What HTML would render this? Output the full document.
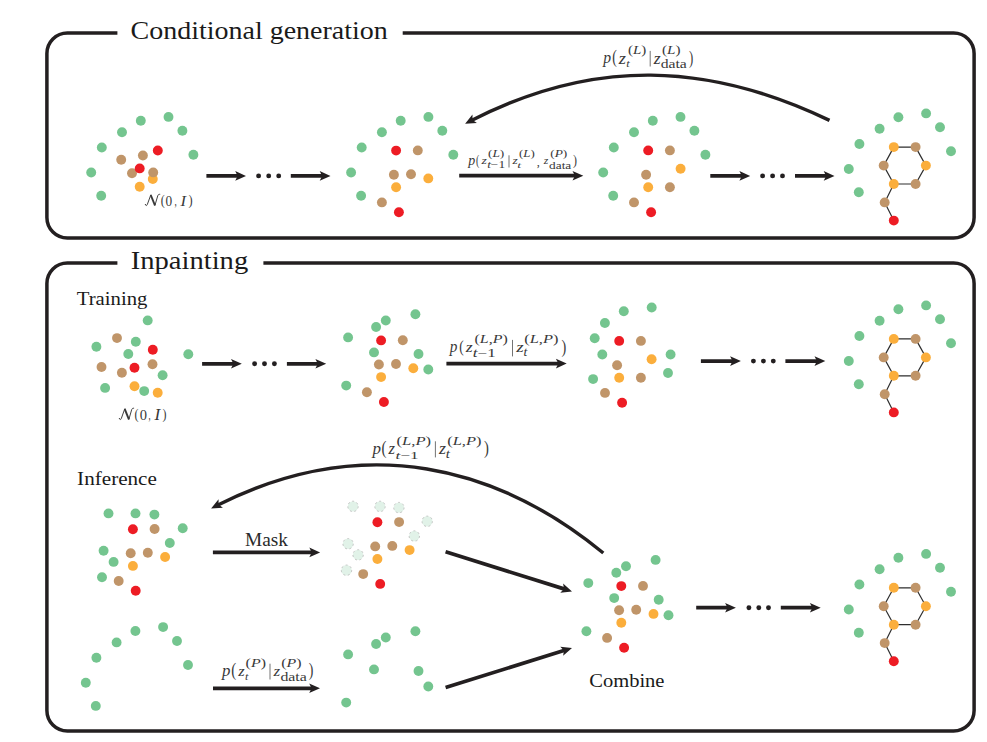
<!DOCTYPE html>
<html><head><meta charset="utf-8"><title>Conditional generation and inpainting</title>
<style>
html,body{margin:0;padding:0;background:#fff;width:987px;height:742px;overflow:hidden}
svg{display:block}
text{font-family:"Liberation Serif",serif}
.m{fill:#383838}
.t{fill:#1a1a1a}
</style></head><body>
<svg width="987" height="742" viewBox="0 0 987 742">
<rect width="987" height="742" fill="#fff"/>
<path d="M117.4 33.1H67.4A20.5 20.5 0 0 0 46.9 53.6V217.5A20.5 20.5 0 0 0 67.4 238.0H953.6A20.5 20.5 0 0 0 974.1 217.5V53.6A20.5 20.5 0 0 0 953.6 33.1H402.7" stroke="#231f20" stroke-width="3.5" fill="none"/>
<path d="M117.4 263.1H67.4A20.5 20.5 0 0 0 46.9 283.6V710.4A20.5 20.5 0 0 0 67.4 730.9H953.6A20.5 20.5 0 0 0 974.1 710.4V283.6A20.5 20.5 0 0 0 953.6 263.1H263.4" stroke="#231f20" stroke-width="3.5" fill="none"/>
<circle cx="140.80" cy="120.80" r="4.95" fill="#74c58f"/>
<circle cx="168.50" cy="116.90" r="4.95" fill="#74c58f"/>
<circle cx="122.00" cy="132.20" r="4.95" fill="#74c58f"/>
<circle cx="182.40" cy="130.80" r="4.95" fill="#74c58f"/>
<circle cx="101.80" cy="147.50" r="4.95" fill="#74c58f"/>
<circle cx="193.40" cy="154.80" r="4.95" fill="#74c58f"/>
<circle cx="91.20" cy="172.50" r="4.95" fill="#74c58f"/>
<circle cx="101.20" cy="195.70" r="4.95" fill="#74c58f"/>
<circle cx="152.80" cy="179.10" r="4.95" fill="#fbae3c"/>
<circle cx="139.70" cy="186.70" r="4.95" fill="#fbae3c"/>
<circle cx="142.90" cy="155.50" r="4.95" fill="#c09569"/>
<circle cx="121.20" cy="159.70" r="4.95" fill="#c09569"/>
<circle cx="132.00" cy="173.30" r="4.95" fill="#c09569"/>
<circle cx="153.20" cy="172.40" r="4.95" fill="#c09569"/>
<circle cx="157.80" cy="150.50" r="4.95" fill="#ed1c24"/>
<circle cx="139.70" cy="168.40" r="4.95" fill="#ed1c24"/>
<circle cx="400.70" cy="120.80" r="4.95" fill="#74c58f"/>
<circle cx="428.40" cy="116.90" r="4.95" fill="#74c58f"/>
<circle cx="381.90" cy="132.20" r="4.95" fill="#74c58f"/>
<circle cx="442.30" cy="130.80" r="4.95" fill="#74c58f"/>
<circle cx="361.70" cy="147.50" r="4.95" fill="#74c58f"/>
<circle cx="453.30" cy="154.80" r="4.95" fill="#74c58f"/>
<circle cx="351.10" cy="172.50" r="4.95" fill="#74c58f"/>
<circle cx="361.10" cy="195.70" r="4.95" fill="#74c58f"/>
<circle cx="428.30" cy="178.40" r="4.95" fill="#fbae3c"/>
<circle cx="396.10" cy="187.30" r="4.95" fill="#fbae3c"/>
<circle cx="417.80" cy="150.40" r="4.95" fill="#c09569"/>
<circle cx="393.90" cy="174.70" r="4.95" fill="#c09569"/>
<circle cx="411.00" cy="174.20" r="4.95" fill="#c09569"/>
<circle cx="381.90" cy="202.40" r="4.95" fill="#c09569"/>
<circle cx="396.10" cy="150.60" r="4.95" fill="#ed1c24"/>
<circle cx="398.90" cy="212.20" r="4.95" fill="#ed1c24"/>
<circle cx="652.80" cy="120.80" r="4.95" fill="#74c58f"/>
<circle cx="680.50" cy="116.90" r="4.95" fill="#74c58f"/>
<circle cx="634.00" cy="132.20" r="4.95" fill="#74c58f"/>
<circle cx="694.40" cy="130.80" r="4.95" fill="#74c58f"/>
<circle cx="613.80" cy="147.50" r="4.95" fill="#74c58f"/>
<circle cx="705.40" cy="154.80" r="4.95" fill="#74c58f"/>
<circle cx="603.20" cy="172.50" r="4.95" fill="#74c58f"/>
<circle cx="613.20" cy="195.70" r="4.95" fill="#74c58f"/>
<circle cx="680.60" cy="168.70" r="4.95" fill="#fbae3c"/>
<circle cx="648.20" cy="187.30" r="4.95" fill="#fbae3c"/>
<circle cx="669.90" cy="150.40" r="4.95" fill="#c09569"/>
<circle cx="646.10" cy="174.70" r="4.95" fill="#c09569"/>
<circle cx="669.90" cy="187.30" r="4.95" fill="#c09569"/>
<circle cx="634.00" cy="202.40" r="4.95" fill="#c09569"/>
<circle cx="648.20" cy="150.40" r="4.95" fill="#ed1c24"/>
<circle cx="651.10" cy="212.20" r="4.95" fill="#ed1c24"/>
<circle cx="898.40" cy="117.30" r="4.95" fill="#74c58f"/>
<circle cx="926.10" cy="113.40" r="4.95" fill="#74c58f"/>
<circle cx="879.60" cy="128.70" r="4.95" fill="#74c58f"/>
<circle cx="940.00" cy="127.30" r="4.95" fill="#74c58f"/>
<circle cx="859.40" cy="144.00" r="4.95" fill="#74c58f"/>
<circle cx="951.00" cy="151.30" r="4.95" fill="#74c58f"/>
<circle cx="848.80" cy="169.00" r="4.95" fill="#74c58f"/>
<circle cx="858.80" cy="192.20" r="4.95" fill="#74c58f"/>
<path d="M893.80 147.10L915.60 147.10 M915.60 147.10L925.90 165.60 M925.90 165.60L915.60 184.00 M915.60 184.00L893.80 184.00 M893.80 184.00L883.70 165.60 M883.70 165.60L893.80 147.10 M893.80 184.00L884.70 202.40 M884.70 202.40L893.80 220.60" stroke="#2e2e2e" stroke-width="1.2" fill="none"/>
<circle cx="893.80" cy="147.10" r="4.95" fill="#fbae3c"/>
<circle cx="925.90" cy="165.60" r="4.95" fill="#fbae3c"/>
<circle cx="893.80" cy="184.00" r="4.95" fill="#fbae3c"/>
<circle cx="915.60" cy="147.10" r="4.95" fill="#c09569"/>
<circle cx="915.60" cy="184.00" r="4.95" fill="#c09569"/>
<circle cx="883.70" cy="165.60" r="4.95" fill="#c09569"/>
<circle cx="884.70" cy="202.40" r="4.95" fill="#c09569"/>
<circle cx="893.80" cy="220.60" r="4.95" fill="#ed1c24"/>
<circle cx="147.70" cy="320.40" r="4.95" fill="#74c58f"/>
<circle cx="135.80" cy="341.70" r="4.95" fill="#74c58f"/>
<circle cx="96.40" cy="346.80" r="4.95" fill="#74c58f"/>
<circle cx="128.30" cy="354.00" r="4.95" fill="#74c58f"/>
<circle cx="188.30" cy="354.20" r="4.95" fill="#74c58f"/>
<circle cx="162.60" cy="375.30" r="4.95" fill="#74c58f"/>
<circle cx="105.10" cy="387.90" r="4.95" fill="#74c58f"/>
<circle cx="144.20" cy="391.10" r="4.95" fill="#74c58f"/>
<circle cx="134.50" cy="386.20" r="4.95" fill="#fbae3c"/>
<circle cx="157.70" cy="392.80" r="4.95" fill="#fbae3c"/>
<circle cx="117.00" cy="338.10" r="4.95" fill="#c09569"/>
<circle cx="152.50" cy="364.20" r="4.95" fill="#c09569"/>
<circle cx="101.50" cy="367.00" r="4.95" fill="#c09569"/>
<circle cx="121.90" cy="372.80" r="4.95" fill="#c09569"/>
<circle cx="152.80" cy="349.80" r="4.95" fill="#ed1c24"/>
<circle cx="134.50" cy="367.70" r="4.95" fill="#ed1c24"/>
<circle cx="415.40" cy="314.20" r="4.95" fill="#74c58f"/>
<circle cx="385.80" cy="320.50" r="4.95" fill="#74c58f"/>
<circle cx="376.10" cy="327.00" r="4.95" fill="#74c58f"/>
<circle cx="348.10" cy="337.40" r="4.95" fill="#74c58f"/>
<circle cx="374.00" cy="352.40" r="4.95" fill="#74c58f"/>
<circle cx="418.50" cy="354.00" r="4.95" fill="#74c58f"/>
<circle cx="428.30" cy="369.50" r="4.95" fill="#74c58f"/>
<circle cx="346.20" cy="385.60" r="4.95" fill="#74c58f"/>
<circle cx="413.30" cy="368.20" r="4.95" fill="#fbae3c"/>
<circle cx="381.10" cy="377.10" r="4.95" fill="#fbae3c"/>
<circle cx="402.80" cy="340.20" r="4.95" fill="#c09569"/>
<circle cx="378.90" cy="364.50" r="4.95" fill="#c09569"/>
<circle cx="396.00" cy="364.00" r="4.95" fill="#c09569"/>
<circle cx="366.90" cy="392.20" r="4.95" fill="#c09569"/>
<circle cx="381.10" cy="340.40" r="4.95" fill="#ed1c24"/>
<circle cx="383.90" cy="402.00" r="4.95" fill="#ed1c24"/>
<circle cx="651.70" cy="307.50" r="4.95" fill="#74c58f"/>
<circle cx="623.80" cy="311.30" r="4.95" fill="#74c58f"/>
<circle cx="604.90" cy="323.00" r="4.95" fill="#74c58f"/>
<circle cx="594.70" cy="338.20" r="4.95" fill="#74c58f"/>
<circle cx="602.30" cy="354.50" r="4.95" fill="#74c58f"/>
<circle cx="670.60" cy="354.50" r="4.95" fill="#74c58f"/>
<circle cx="668.00" cy="373.00" r="4.95" fill="#74c58f"/>
<circle cx="593.10" cy="379.10" r="4.95" fill="#74c58f"/>
<circle cx="651.60" cy="359.20" r="4.95" fill="#fbae3c"/>
<circle cx="619.20" cy="377.80" r="4.95" fill="#fbae3c"/>
<circle cx="640.90" cy="340.90" r="4.95" fill="#c09569"/>
<circle cx="617.10" cy="365.20" r="4.95" fill="#c09569"/>
<circle cx="640.90" cy="377.80" r="4.95" fill="#c09569"/>
<circle cx="605.00" cy="392.90" r="4.95" fill="#c09569"/>
<circle cx="619.20" cy="340.90" r="4.95" fill="#ed1c24"/>
<circle cx="622.10" cy="402.70" r="4.95" fill="#ed1c24"/>
<circle cx="898.40" cy="309.30" r="4.95" fill="#74c58f"/>
<circle cx="926.10" cy="305.40" r="4.95" fill="#74c58f"/>
<circle cx="879.60" cy="320.70" r="4.95" fill="#74c58f"/>
<circle cx="940.00" cy="319.30" r="4.95" fill="#74c58f"/>
<circle cx="859.40" cy="336.00" r="4.95" fill="#74c58f"/>
<circle cx="951.00" cy="343.30" r="4.95" fill="#74c58f"/>
<circle cx="848.80" cy="361.00" r="4.95" fill="#74c58f"/>
<circle cx="858.80" cy="384.20" r="4.95" fill="#74c58f"/>
<path d="M893.80 338.90L915.60 338.90 M915.60 338.90L925.90 357.40 M925.90 357.40L915.60 375.80 M915.60 375.80L893.80 375.80 M893.80 375.80L883.70 357.40 M883.70 357.40L893.80 338.90 M893.80 375.80L884.70 394.20 M884.70 394.20L893.80 412.40" stroke="#2e2e2e" stroke-width="1.2" fill="none"/>
<circle cx="893.80" cy="338.90" r="4.95" fill="#fbae3c"/>
<circle cx="925.90" cy="357.40" r="4.95" fill="#fbae3c"/>
<circle cx="893.80" cy="375.80" r="4.95" fill="#fbae3c"/>
<circle cx="915.60" cy="338.90" r="4.95" fill="#c09569"/>
<circle cx="915.60" cy="375.80" r="4.95" fill="#c09569"/>
<circle cx="883.70" cy="357.40" r="4.95" fill="#c09569"/>
<circle cx="884.70" cy="394.20" r="4.95" fill="#c09569"/>
<circle cx="893.80" cy="412.40" r="4.95" fill="#ed1c24"/>
<circle cx="108.50" cy="513.40" r="4.95" fill="#74c58f"/>
<circle cx="135.50" cy="513.40" r="4.95" fill="#74c58f"/>
<circle cx="154.40" cy="514.60" r="4.95" fill="#74c58f"/>
<circle cx="182.70" cy="528.30" r="4.95" fill="#74c58f"/>
<circle cx="169.80" cy="543.00" r="4.95" fill="#74c58f"/>
<circle cx="103.60" cy="550.80" r="4.95" fill="#74c58f"/>
<circle cx="113.60" cy="561.90" r="4.95" fill="#74c58f"/>
<circle cx="102.00" cy="577.20" r="4.95" fill="#74c58f"/>
<circle cx="165.10" cy="557.00" r="4.95" fill="#fbae3c"/>
<circle cx="132.90" cy="565.90" r="4.95" fill="#fbae3c"/>
<circle cx="154.60" cy="529.00" r="4.95" fill="#c09569"/>
<circle cx="130.70" cy="553.30" r="4.95" fill="#c09569"/>
<circle cx="147.80" cy="552.80" r="4.95" fill="#c09569"/>
<circle cx="118.70" cy="581.00" r="4.95" fill="#c09569"/>
<circle cx="132.90" cy="529.20" r="4.95" fill="#ed1c24"/>
<circle cx="135.70" cy="590.80" r="4.95" fill="#ed1c24"/>
<circle cx="353.00" cy="506.40" r="5.2" fill="#e1f2e8" stroke="#b8b8b8" stroke-width="0.8" stroke-dasharray="2 2.6"/>
<circle cx="380.00" cy="506.40" r="5.2" fill="#e1f2e8" stroke="#b8b8b8" stroke-width="0.8" stroke-dasharray="2 2.6"/>
<circle cx="398.90" cy="507.60" r="5.2" fill="#e1f2e8" stroke="#b8b8b8" stroke-width="0.8" stroke-dasharray="2 2.6"/>
<circle cx="427.20" cy="521.30" r="5.2" fill="#e1f2e8" stroke="#b8b8b8" stroke-width="0.8" stroke-dasharray="2 2.6"/>
<circle cx="414.30" cy="536.00" r="5.2" fill="#e1f2e8" stroke="#b8b8b8" stroke-width="0.8" stroke-dasharray="2 2.6"/>
<circle cx="348.10" cy="543.80" r="5.2" fill="#e1f2e8" stroke="#b8b8b8" stroke-width="0.8" stroke-dasharray="2 2.6"/>
<circle cx="358.10" cy="554.90" r="5.2" fill="#e1f2e8" stroke="#b8b8b8" stroke-width="0.8" stroke-dasharray="2 2.6"/>
<circle cx="346.50" cy="570.20" r="5.2" fill="#e1f2e8" stroke="#b8b8b8" stroke-width="0.8" stroke-dasharray="2 2.6"/>
<circle cx="409.60" cy="550.10" r="4.95" fill="#fbae3c"/>
<circle cx="377.40" cy="559.00" r="4.95" fill="#fbae3c"/>
<circle cx="399.10" cy="522.10" r="4.95" fill="#c09569"/>
<circle cx="375.20" cy="546.40" r="4.95" fill="#c09569"/>
<circle cx="392.30" cy="545.90" r="4.95" fill="#c09569"/>
<circle cx="363.20" cy="574.10" r="4.95" fill="#c09569"/>
<circle cx="377.40" cy="522.30" r="4.95" fill="#ed1c24"/>
<circle cx="380.20" cy="583.90" r="4.95" fill="#ed1c24"/>
<circle cx="655.60" cy="559.90" r="4.95" fill="#74c58f"/>
<circle cx="626.00" cy="566.20" r="4.95" fill="#74c58f"/>
<circle cx="616.30" cy="572.70" r="4.95" fill="#74c58f"/>
<circle cx="588.30" cy="583.10" r="4.95" fill="#74c58f"/>
<circle cx="614.20" cy="598.10" r="4.95" fill="#74c58f"/>
<circle cx="658.70" cy="599.70" r="4.95" fill="#74c58f"/>
<circle cx="668.50" cy="615.20" r="4.95" fill="#74c58f"/>
<circle cx="586.40" cy="631.30" r="4.95" fill="#74c58f"/>
<circle cx="653.50" cy="613.90" r="4.95" fill="#fbae3c"/>
<circle cx="621.30" cy="622.80" r="4.95" fill="#fbae3c"/>
<circle cx="643.00" cy="585.90" r="4.95" fill="#c09569"/>
<circle cx="619.10" cy="610.20" r="4.95" fill="#c09569"/>
<circle cx="636.20" cy="609.70" r="4.95" fill="#c09569"/>
<circle cx="607.10" cy="637.90" r="4.95" fill="#c09569"/>
<circle cx="621.30" cy="586.10" r="4.95" fill="#ed1c24"/>
<circle cx="624.10" cy="647.70" r="4.95" fill="#ed1c24"/>
<circle cx="898.40" cy="557.80" r="4.95" fill="#74c58f"/>
<circle cx="926.10" cy="553.90" r="4.95" fill="#74c58f"/>
<circle cx="879.60" cy="569.20" r="4.95" fill="#74c58f"/>
<circle cx="940.00" cy="567.80" r="4.95" fill="#74c58f"/>
<circle cx="859.40" cy="584.50" r="4.95" fill="#74c58f"/>
<circle cx="951.00" cy="591.80" r="4.95" fill="#74c58f"/>
<circle cx="848.80" cy="609.50" r="4.95" fill="#74c58f"/>
<circle cx="858.80" cy="632.70" r="4.95" fill="#74c58f"/>
<path d="M893.80 587.80L915.60 587.80 M915.60 587.80L925.90 606.30 M925.90 606.30L915.60 624.70 M915.60 624.70L893.80 624.70 M893.80 624.70L883.70 606.30 M883.70 606.30L893.80 587.80 M893.80 624.70L884.70 643.10 M884.70 643.10L893.80 661.30" stroke="#2e2e2e" stroke-width="1.2" fill="none"/>
<circle cx="893.80" cy="587.80" r="4.95" fill="#fbae3c"/>
<circle cx="925.90" cy="606.30" r="4.95" fill="#fbae3c"/>
<circle cx="893.80" cy="624.70" r="4.95" fill="#fbae3c"/>
<circle cx="915.60" cy="587.80" r="4.95" fill="#c09569"/>
<circle cx="915.60" cy="624.70" r="4.95" fill="#c09569"/>
<circle cx="883.70" cy="606.30" r="4.95" fill="#c09569"/>
<circle cx="884.70" cy="643.10" r="4.95" fill="#c09569"/>
<circle cx="893.80" cy="661.30" r="4.95" fill="#ed1c24"/>
<circle cx="135.40" cy="631.00" r="4.95" fill="#74c58f"/>
<circle cx="163.10" cy="627.10" r="4.95" fill="#74c58f"/>
<circle cx="116.60" cy="642.40" r="4.95" fill="#74c58f"/>
<circle cx="177.00" cy="641.00" r="4.95" fill="#74c58f"/>
<circle cx="96.40" cy="657.70" r="4.95" fill="#74c58f"/>
<circle cx="188.00" cy="665.00" r="4.95" fill="#74c58f"/>
<circle cx="85.80" cy="682.70" r="4.95" fill="#74c58f"/>
<circle cx="95.80" cy="705.90" r="4.95" fill="#74c58f"/>
<circle cx="415.40" cy="631.20" r="4.95" fill="#74c58f"/>
<circle cx="385.80" cy="637.50" r="4.95" fill="#74c58f"/>
<circle cx="376.10" cy="644.00" r="4.95" fill="#74c58f"/>
<circle cx="348.10" cy="654.40" r="4.95" fill="#74c58f"/>
<circle cx="374.00" cy="669.40" r="4.95" fill="#74c58f"/>
<circle cx="418.50" cy="671.00" r="4.95" fill="#74c58f"/>
<circle cx="428.30" cy="686.50" r="4.95" fill="#74c58f"/>
<circle cx="346.20" cy="702.60" r="4.95" fill="#74c58f"/>
<path d="M206.40 175.90L240.00 175.90" stroke="#231f20" stroke-width="3.7"/>
<path d="M246.00 175.90L235.20 180.70L237.60 175.90L235.20 171.10Z" fill="#231f20"/>
<circle cx="258.60" cy="175.90" r="2.45" fill="#231f20"/>
<circle cx="268.70" cy="175.90" r="2.45" fill="#231f20"/>
<circle cx="278.70" cy="175.90" r="2.45" fill="#231f20"/>
<path d="M290.80 175.90L324.50 175.90" stroke="#231f20" stroke-width="3.7"/>
<path d="M330.50 175.90L319.70 180.70L322.10 175.90L319.70 171.10Z" fill="#231f20"/>
<path d="M459.20 175.70L577.30 175.70" stroke="#231f20" stroke-width="3.7"/>
<path d="M583.30 175.70L572.50 180.50L574.90 175.70L572.50 170.90Z" fill="#231f20"/>
<path d="M710.30 175.90L744.20 175.90" stroke="#231f20" stroke-width="3.7"/>
<path d="M750.20 175.90L739.40 180.70L741.80 175.90L739.40 171.10Z" fill="#231f20"/>
<circle cx="762.60" cy="175.90" r="2.45" fill="#231f20"/>
<circle cx="772.60" cy="175.90" r="2.45" fill="#231f20"/>
<circle cx="782.50" cy="175.90" r="2.45" fill="#231f20"/>
<path d="M795.00 175.90L828.50 175.90" stroke="#231f20" stroke-width="3.7"/>
<path d="M834.50 175.90L823.70 180.70L826.10 175.90L823.70 171.10Z" fill="#231f20"/>
<path d="M202.10 363.80L235.80 363.80" stroke="#231f20" stroke-width="3.7"/>
<path d="M241.80 363.80L231.00 368.60L233.40 363.80L231.00 359.00Z" fill="#231f20"/>
<circle cx="254.60" cy="363.80" r="2.45" fill="#231f20"/>
<circle cx="264.50" cy="363.80" r="2.45" fill="#231f20"/>
<circle cx="274.40" cy="363.80" r="2.45" fill="#231f20"/>
<path d="M286.90 363.80L320.20 363.80" stroke="#231f20" stroke-width="3.7"/>
<path d="M326.20 363.80L315.40 368.60L317.80 363.80L315.40 359.00Z" fill="#231f20"/>
<path d="M446.40 363.60L560.70 363.60" stroke="#231f20" stroke-width="3.7"/>
<path d="M566.70 363.60L555.90 368.40L558.30 363.60L555.90 358.80Z" fill="#231f20"/>
<path d="M700.90 361.10L734.90 361.10" stroke="#231f20" stroke-width="3.7"/>
<path d="M740.90 361.10L730.10 365.90L732.50 361.10L730.10 356.30Z" fill="#231f20"/>
<circle cx="753.40" cy="361.10" r="2.45" fill="#231f20"/>
<circle cx="763.40" cy="361.10" r="2.45" fill="#231f20"/>
<circle cx="773.30" cy="361.10" r="2.45" fill="#231f20"/>
<path d="M785.40 361.10L819.30 361.10" stroke="#231f20" stroke-width="3.7"/>
<path d="M825.30 361.10L814.50 365.90L816.90 361.10L814.50 356.30Z" fill="#231f20"/>
<path d="M212.90 552.40L314.10 552.40" stroke="#231f20" stroke-width="3.7"/>
<path d="M320.10 552.40L309.30 557.20L311.70 552.40L309.30 547.60Z" fill="#231f20"/>
<path d="M213.00 688.30L314.00 688.30" stroke="#231f20" stroke-width="3.7"/>
<path d="M320.00 688.30L309.20 693.10L311.60 688.30L309.20 683.50Z" fill="#231f20"/>
<path d="M445.60 551.80L566.27 589.61" stroke="#231f20" stroke-width="3.7"/>
<path d="M572.00 591.40L560.26 592.75L563.98 588.89L563.13 583.59Z" fill="#231f20"/>
<path d="M445.60 687.60L566.27 649.79" stroke="#231f20" stroke-width="3.7"/>
<path d="M572.00 648.00L563.13 655.81L563.98 650.51L560.26 646.65Z" fill="#231f20"/>
<path d="M696.20 607.70L729.90 607.70" stroke="#231f20" stroke-width="3.7"/>
<path d="M735.90 607.70L725.10 612.50L727.50 607.70L725.10 602.90Z" fill="#231f20"/>
<circle cx="748.90" cy="607.70" r="2.45" fill="#231f20"/>
<circle cx="758.80" cy="607.70" r="2.45" fill="#231f20"/>
<circle cx="768.50" cy="607.70" r="2.45" fill="#231f20"/>
<path d="M780.80 607.70L814.70 607.70" stroke="#231f20" stroke-width="3.7"/>
<path d="M820.70 607.70L809.90 612.50L812.30 607.70L809.90 602.90Z" fill="#231f20"/>
<path d="M829.50 120.40C708.21 62.22 593.69 57.67 470.87 120.79" stroke="#231f20" stroke-width="3.4" fill="none"/>
<path d="M465.10 123.80L472.47 114.56L472.55 119.93L476.90 123.08Z" fill="#231f20"/>
<path d="M603.30 553.00C498.95 467.47 366.05 430.25 216.87 505.44" stroke="#231f20" stroke-width="3.4" fill="none"/>
<path d="M211.10 508.40L218.56 499.23L218.59 504.60L222.90 507.79Z" fill="#231f20"/>
<path d="M145.30 204.40C145.50 205.90 146.69 206.00 147.28 204.60L150.76 195.00" stroke="#383838" stroke-width="0.95" fill="none" stroke-linecap="round"/>
<path d="M150.76 195.00L154.93 205.40" stroke="#383838" stroke-width="1.9" fill="none"/>
<path d="M154.93 205.40L157.81 195.60C158.11 194.60 158.91 194.20 159.80 194.30" stroke="#383838" stroke-width="0.95" fill="none" stroke-linecap="round"/>
<path d="M119.29 418.39C119.49 419.90 120.68 420.00 121.27 418.59L124.72 408.91" stroke="#383838" stroke-width="0.95" fill="none" stroke-linecap="round"/>
<path d="M124.72 408.91L128.87 419.39" stroke="#383838" stroke-width="1.9" fill="none"/>
<path d="M128.87 419.39L131.73 409.51C132.02 408.50 132.81 408.10 133.70 408.20" stroke="#383838" stroke-width="0.95" fill="none" stroke-linecap="round"/>
<path d="M509.0 155.3V167.5" stroke="#444" stroke-width="0.75"/>
<path d="M650.2 50.9V66.5" stroke="#444" stroke-width="0.75"/>
<path d="M512.5 339.90000000000003V356.4" stroke="#444" stroke-width="0.75"/>
<path d="M435.4 441.3V457.4" stroke="#444" stroke-width="0.75"/>
<path d="M270.0 663.6999999999999V679.5" stroke="#444" stroke-width="0.75"/>
<text x="468.288" y="164.847" font-size="13.824" textLength="6.981" lengthAdjust="spacingAndGlyphs" class="m"><tspan font-style="italic">p</tspan></text>
<text x="476.109" y="165.053" font-size="15.222" textLength="3.265" lengthAdjust="spacingAndGlyphs" class="m"><tspan font-style="normal">(</tspan></text>
<text x="481.488" y="163.95" font-size="10.87" textLength="5.358" lengthAdjust="spacingAndGlyphs" class="m"><tspan font-style="italic">z</tspan></text>
<text x="488.051" y="157.227" font-size="10.111" textLength="16.261" lengthAdjust="spacingAndGlyphs" class="m"><tspan font-style="normal">(</tspan><tspan font-style="italic">L</tspan><tspan font-style="normal">)</tspan></text>
<text x="487.145" y="168.348" font-size="10.226" textLength="18.037" lengthAdjust="spacingAndGlyphs" class="m"><tspan font-style="italic">t</tspan><tspan font-style="normal">−</tspan><tspan font-style="normal">1</tspan></text>
<text x="512.585" y="164.25" font-size="11.304" textLength="5.257" lengthAdjust="spacingAndGlyphs" class="m"><tspan font-style="italic">z</tspan></text>
<text x="518.971" y="157.273" font-size="9.889" textLength="15.723" lengthAdjust="spacingAndGlyphs" class="m"><tspan font-style="normal">(</tspan><tspan font-style="italic">L</tspan><tspan font-style="normal">)</tspan></text>
<text x="517.22" y="168.066" font-size="8.421" textLength="3.89" lengthAdjust="spacingAndGlyphs" class="m"><tspan font-style="italic">t</tspan></text>
<text x="536.853" y="165.826" font-size="12.157" textLength="3.103" lengthAdjust="spacingAndGlyphs" class="m"><tspan font-style="normal">,</tspan></text>
<text x="543.667" y="164.25" font-size="11.304" textLength="4.549" lengthAdjust="spacingAndGlyphs" class="m"><tspan font-style="italic">z</tspan></text>
<text x="550.249" y="157.273" font-size="9.889" textLength="17.062" lengthAdjust="spacingAndGlyphs" class="m"><tspan font-style="normal">(</tspan><tspan font-style="italic">P</tspan><tspan font-style="normal">)</tspan></text>
<text x="549.084" y="169.039" font-size="11.143" textLength="22.173" lengthAdjust="spacingAndGlyphs" class="m"><tspan font-style="normal">data</tspan></text>
<text x="572.892" y="165.053" font-size="15.222" textLength="3.971" lengthAdjust="spacingAndGlyphs" class="m"><tspan font-style="normal">)</tspan></text>
<text x="603.29" y="63.029" font-size="16.765" textLength="7.83" lengthAdjust="spacingAndGlyphs" class="m"><tspan font-style="italic">p</tspan></text>
<text x="612.332" y="63.153" font-size="18.556" textLength="4.571" lengthAdjust="spacingAndGlyphs" class="m"><tspan font-style="normal">(</tspan></text>
<text x="618.734" y="63.55" font-size="16.087" textLength="7.178" lengthAdjust="spacingAndGlyphs" class="m"><tspan font-style="italic">z</tspan></text>
<text x="626.292" y="67.246" font-size="10.351" textLength="3.446" lengthAdjust="spacingAndGlyphs" class="m"><tspan font-style="italic">t</tspan></text>
<text x="627.976" y="54.45" font-size="13.333" textLength="18.307" lengthAdjust="spacingAndGlyphs" class="m"><tspan font-style="normal">(</tspan><tspan font-style="italic">L</tspan><tspan font-style="normal">)</tspan></text>
<text x="653.827" y="63.55" font-size="16.522" textLength="6.875" lengthAdjust="spacingAndGlyphs" class="m"><tspan font-style="italic">z</tspan></text>
<text x="662.068" y="54.45" font-size="13.333" textLength="18.522" lengthAdjust="spacingAndGlyphs" class="m"><tspan font-style="normal">(</tspan><tspan font-style="italic">L</tspan><tspan font-style="normal">)</tspan></text>
<text x="660.702" y="68.23" font-size="12.0" textLength="26.092" lengthAdjust="spacingAndGlyphs" class="m"><tspan font-style="normal">data</tspan></text>
<text x="688.969" y="63.607" font-size="18.778" textLength="4.227" lengthAdjust="spacingAndGlyphs" class="m"><tspan font-style="normal">)</tspan></text>
<text x="449.767" y="352.26" font-size="16.618" textLength="7.642" lengthAdjust="spacingAndGlyphs" class="m"><tspan font-style="italic">p</tspan></text>
<text x="459.15" y="352.34" font-size="17.667" textLength="4.441" lengthAdjust="spacingAndGlyphs" class="m"><tspan font-style="normal">(</tspan></text>
<text x="465.827" y="351.95" font-size="15.0" textLength="6.875" lengthAdjust="spacingAndGlyphs" class="m"><tspan font-style="italic">z</tspan></text>
<text x="474.533" y="343.26" font-size="12.333" textLength="33.205" lengthAdjust="spacingAndGlyphs" class="m"><tspan font-style="normal">(</tspan><tspan font-style="italic">L</tspan><tspan font-style="normal">,</tspan><tspan font-style="italic">P</tspan><tspan font-style="normal">)</tspan></text>
<text x="472.778" y="356.934" font-size="11.579" textLength="23.035" lengthAdjust="spacingAndGlyphs" class="m"><tspan font-style="italic">t</tspan><tspan font-style="normal">−</tspan><tspan font-style="normal">1</tspan></text>
<text x="516.342" y="352.15" font-size="15.435" textLength="7.481" lengthAdjust="spacingAndGlyphs" class="m"><tspan font-style="italic">z</tspan></text>
<text x="524.312" y="343.213" font-size="12.556" textLength="34.144" lengthAdjust="spacingAndGlyphs" class="m"><tspan font-style="normal">(</tspan><tspan font-style="italic">L</tspan><tspan font-style="normal">,</tspan><tspan font-style="italic">P</tspan><tspan font-style="normal">)</tspan></text>
<text x="523.438" y="356.32" font-size="12.982" textLength="3.779" lengthAdjust="spacingAndGlyphs" class="m"><tspan font-style="italic">t</tspan></text>
<text x="561.523" y="352.577" font-size="18.444" textLength="4.74" lengthAdjust="spacingAndGlyphs" class="m"><tspan font-style="normal">)</tspan></text>
<text x="372.569" y="453.837" font-size="17.206" textLength="8.491" lengthAdjust="spacingAndGlyphs" class="m"><tspan font-style="italic">p</tspan></text>
<text x="381.379" y="453.877" font-size="18.444" textLength="4.963" lengthAdjust="spacingAndGlyphs" class="m"><tspan font-style="normal">(</tspan></text>
<text x="388.516" y="453.95" font-size="16.522" textLength="6.47" lengthAdjust="spacingAndGlyphs" class="m"><tspan font-style="italic">z</tspan></text>
<text x="396.501" y="444.807" font-size="12.111" textLength="34.667" lengthAdjust="spacingAndGlyphs" class="m"><tspan font-style="normal">(</tspan><tspan font-style="italic">L</tspan><tspan font-style="normal">,</tspan><tspan font-style="italic">P</tspan><tspan font-style="normal">)</tspan></text>
<text x="395.478" y="458.639" font-size="11.128" textLength="23.035" lengthAdjust="spacingAndGlyphs" class="m"><tspan font-style="italic">t</tspan><tspan font-style="normal">−</tspan><tspan font-style="normal">1</tspan></text>
<text x="438.929" y="454.15" font-size="16.522" textLength="6.976" lengthAdjust="spacingAndGlyphs" class="m"><tspan font-style="italic">z</tspan></text>
<text x="447.21" y="444.837" font-size="12.444" textLength="34.249" lengthAdjust="spacingAndGlyphs" class="m"><tspan font-style="normal">(</tspan><tspan font-style="italic">L</tspan><tspan font-style="normal">,</tspan><tspan font-style="italic">P</tspan><tspan font-style="normal">)</tspan></text>
<text x="445.884" y="458.317" font-size="13.333" textLength="4.113" lengthAdjust="spacingAndGlyphs" class="m"><tspan font-style="italic">t</tspan></text>
<text x="484.012" y="453.9" font-size="18.333" textLength="4.868" lengthAdjust="spacingAndGlyphs" class="m"><tspan font-style="normal">)</tspan></text>
<text x="222.058" y="676.029" font-size="16.765" textLength="8.396" lengthAdjust="spacingAndGlyphs" class="m"><tspan font-style="italic">p</tspan></text>
<text x="231.279" y="676.383" font-size="18.889" textLength="4.963" lengthAdjust="spacingAndGlyphs" class="m"><tspan font-style="normal">(</tspan></text>
<text x="238.214" y="675.75" font-size="14.783" textLength="6.369" lengthAdjust="spacingAndGlyphs" class="m"><tspan font-style="italic">z</tspan></text>
<text x="245.11" y="679.948" font-size="10.175" textLength="3.335" lengthAdjust="spacingAndGlyphs" class="m"><tspan font-style="italic">t</tspan></text>
<text x="245.632" y="667.067" font-size="12.778" textLength="20.388" lengthAdjust="spacingAndGlyphs" class="m"><tspan font-style="normal">(</tspan><tspan font-style="italic">P</tspan><tspan font-style="normal">)</tspan></text>
<text x="273.521" y="675.75" font-size="15.435" textLength="6.672" lengthAdjust="spacingAndGlyphs" class="m"><tspan font-style="italic">z</tspan></text>
<text x="281.232" y="667.067" font-size="12.778" textLength="20.388" lengthAdjust="spacingAndGlyphs" class="m"><tspan font-style="normal">(</tspan><tspan font-style="italic">P</tspan><tspan font-style="normal">)</tspan></text>
<text x="280.395" y="681.227" font-size="12.286" textLength="26.401" lengthAdjust="spacingAndGlyphs" class="m"><tspan font-style="normal">data</tspan></text>
<text x="308.635" y="676.153" font-size="18.556" textLength="4.611" lengthAdjust="spacingAndGlyphs" class="m"><tspan font-style="normal">)</tspan></text>
<text x="160.703" y="205.053" font-size="15.222" textLength="4.049" lengthAdjust="spacingAndGlyphs" class="m"><tspan font-style="normal">(</tspan></text>
<text x="165.517" y="205.696" font-size="15.407" textLength="6.667" lengthAdjust="spacingAndGlyphs" class="m"><tspan font-style="normal">0</tspan></text>
<text x="174.591" y="205.691" font-size="13.725" textLength="2.241" lengthAdjust="spacingAndGlyphs" class="m"><tspan font-style="normal">,</tspan></text>
<text x="180.433" y="205.55" font-size="15.538" textLength="5.506" lengthAdjust="spacingAndGlyphs" class="m"><tspan font-style="italic">I</tspan></text>
<text x="188.481" y="205.053" font-size="15.222" textLength="4.099" lengthAdjust="spacingAndGlyphs" class="m"><tspan font-style="normal">)</tspan></text>
<text x="134.403" y="419.183" font-size="15.556" textLength="4.049" lengthAdjust="spacingAndGlyphs" class="m"><tspan font-style="normal">(</tspan></text>
<text x="139.669" y="419.594" font-size="15.556" textLength="7.262" lengthAdjust="spacingAndGlyphs" class="m"><tspan font-style="normal">0</tspan></text>
<text x="148.419" y="419.691" font-size="13.725" textLength="2.069" lengthAdjust="spacingAndGlyphs" class="m"><tspan font-style="normal">,</tspan></text>
<text x="154.435" y="419.75" font-size="16.154" textLength="5.684" lengthAdjust="spacingAndGlyphs" class="m"><tspan font-style="italic">I</tspan></text>
<text x="162.592" y="419.183" font-size="15.556" textLength="3.971" lengthAdjust="spacingAndGlyphs" class="m"><tspan font-style="normal">)</tspan></text>
<text x="130.53" y="38.6" font-size="25.496" textLength="257.307" lengthAdjust="spacingAndGlyphs" class="t">Conditional generation</text>
<text x="130.649" y="268.7" font-size="25.496" textLength="117.585" lengthAdjust="spacingAndGlyphs" class="t">Inpainting</text>
<text x="76.735" y="304.9" font-size="18.931" textLength="70.692" lengthAdjust="spacingAndGlyphs" class="t">Training</text>
<text x="77.11" y="484.9" font-size="19.237" textLength="79.768" lengthAdjust="spacingAndGlyphs" class="t">Inference</text>
<text x="244.971" y="546.1" font-size="19.084" textLength="42.922" lengthAdjust="spacingAndGlyphs" class="t" style="fill:#2a2a2a">Mask</text>
<text x="589.229" y="686.6" font-size="18.931" textLength="75.272" lengthAdjust="spacingAndGlyphs" class="t">Combine</text>
</svg>
</body></html>
